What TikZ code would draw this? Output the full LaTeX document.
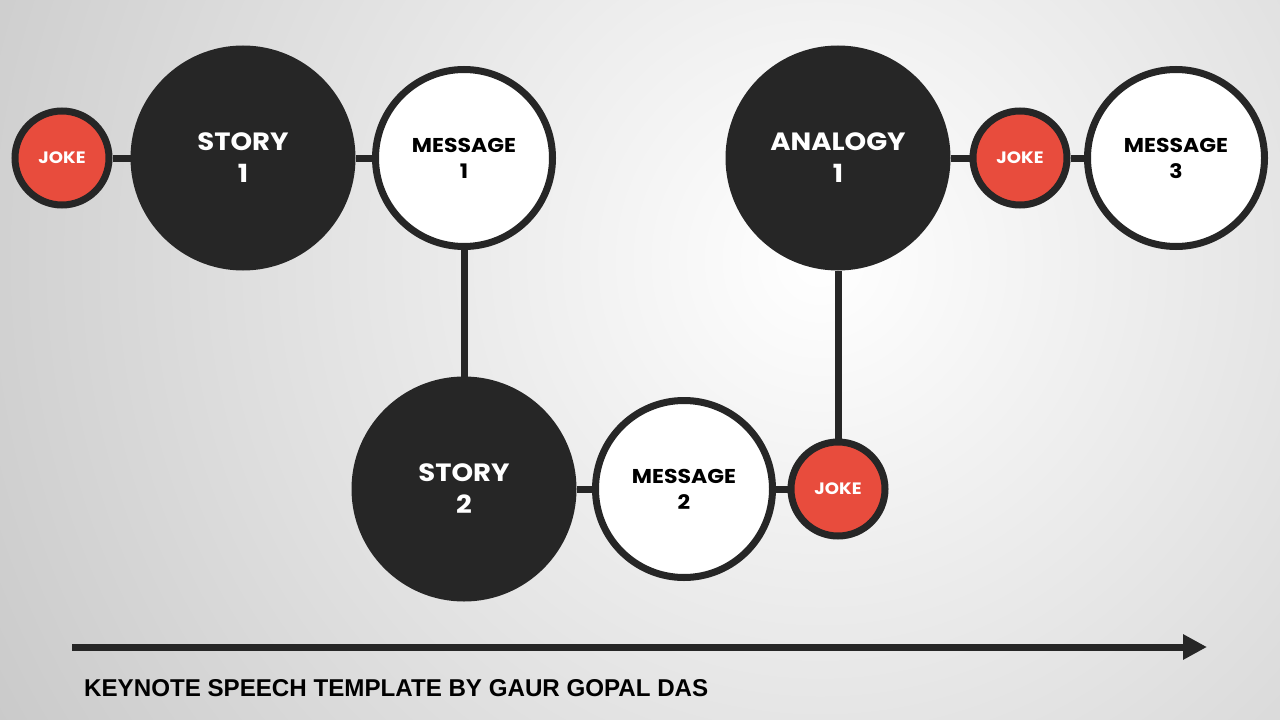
\documentclass[tikz,border=0pt]{standalone}
\usepackage{fontspec}
\setmainfont{Poppins}
\newfontfamily\wfont[FakeStretch=1.1]{Poppins}
\newfontfamily\condfont{Liberation Sans}
\usetikzlibrary{arrows.meta}
\definecolor{ink}{HTML}{262626}
\definecolor{jred}{HTML}{E84C3D}
\definecolor{bggray}{HTML}{C4C4C4}
\begin{document}
\begin{tikzpicture}[x=1pt,y=-1pt,
  big/.style={circle,fill=ink,draw=ink,line width=7pt,minimum size=218pt,inner sep=0pt,text=white,font=\wfont\fontsize{25}{32}\selectfont\bfseries,align=center},
  msg/.style={circle,fill=white,draw=ink,line width=7pt,minimum size=177pt,inner sep=0pt,text=black,font=\wfont\fontsize{20}{26}\selectfont\bfseries,align=center},
  joke/.style={circle,fill=jred,draw=ink,line width=7pt,minimum size=94pt,inner sep=0pt,text=white,font=\wfont\fontsize{16.5}{20}\selectfont\bfseries},
  link/.style={draw=ink,line width=7pt}]
\useasboundingbox (0,0) rectangle (1280,720);
\begin{scope}
\clip (0,0) rectangle (1280,720);
\fill[bggray] (0,0) rectangle (1280,720);
\shade[inner color=white,outer color=bggray] (820,260) circle (1050);
\end{scope}
% nodes
\node[joke] (j1) at (62,158) {JOKE};
\node[big]  (s1) at (243,158) {STORY\\1};
\node[msg]  (m1) at (464,158) {MESSAGE\\1};
\node[big]  (s2) at (464,489) {STORY\\2};
\node[msg]  (m2) at (684,489) {MESSAGE\\2};
\node[joke] (j3) at (838,489) {JOKE};
\node[big]  (a1) at (838,158) {ANALOGY\\1};
\node[joke] (j2) at (1020,158) {JOKE};
\node[msg]  (m3) at (1176,158) {MESSAGE\\3};
% connectors
\draw[link] (j1) -- (s1);
\draw[link] (s1) -- (m1);
\draw[link] (m1) -- (s2);
\draw[link] (s2) -- (m2);
\draw[link] (m2) -- (j3);
\draw[link] (j3) -- (a1);
\draw[link] (a1) -- (j2);
\draw[link] (j2) -- (m3);
% timeline arrow
\coordinate (tl0) at (72,647);
\coordinate (tl1) at (1207,647);
\draw[ink,line width=7pt,-{Triangle[length=24pt,width=24pt]}] (tl0) -- (tl1);
\node[anchor=base west,inner sep=0pt,text=black] (title) at (84,696)
  {\resizebox{624pt}{17pt}{\condfont\bfseries KEYNOTE SPEECH TEMPLATE BY GAUR GOPAL DAS}};
\end{tikzpicture}
\end{document}
